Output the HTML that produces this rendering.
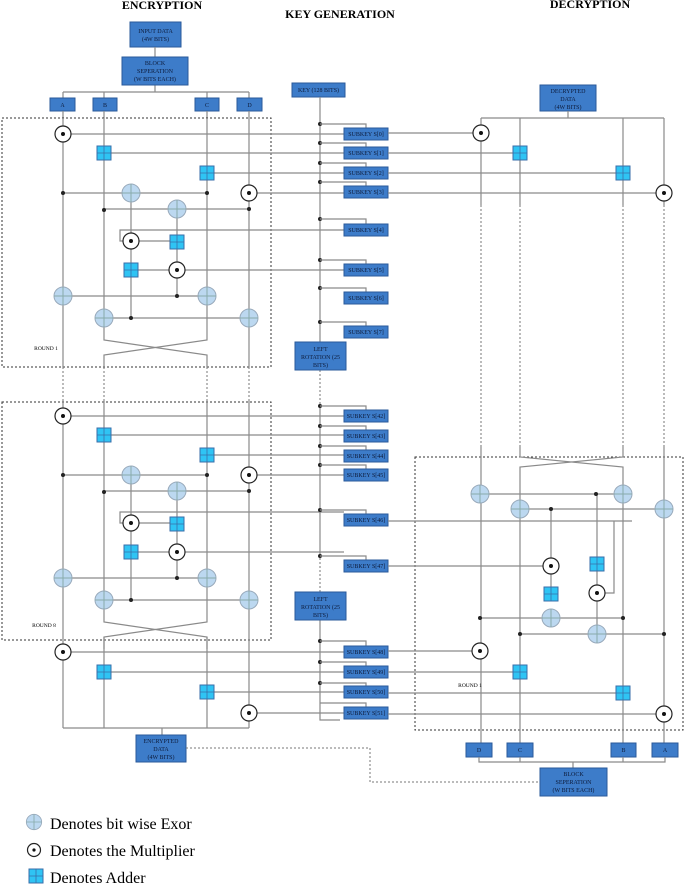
<!DOCTYPE html>
<html><head><meta charset="utf-8"><style>
html,body{margin:0;padding:0;background:#fff;width:685px;height:884px;overflow:hidden}
svg{display:block}
text{font-family:"Liberation Serif",serif;}
.t{font-size:6px;fill:#0d1b3a;text-anchor:middle}
.b{fill:#3d7cc9;stroke:#2a5a9a;stroke-width:1}
.l{stroke:#8a8a8a;stroke-width:1.2;fill:none}
.d{stroke:#777;stroke-width:1;fill:none;stroke-dasharray:2 2}
.bx{stroke:#333;stroke-width:1;fill:none;stroke-dasharray:2 2}
</style></head><body>
<svg width="685" height="884" viewBox="0 0 685 884" xmlns="http://www.w3.org/2000/svg">
<defs>
<g id="m"><circle r="8" fill="#fff" stroke="#222" stroke-width="1.2"/><circle r="2" fill="#111"/></g>
<g id="x"><circle r="9" fill="#bcd8f0" stroke="#9ab" stroke-width="1"/><path d="M-9 0H9M0 -9V9" stroke="#8aa" stroke-width="1"/></g>
<g id="a"><rect x="-7" y="-7" width="14" height="14" fill="#2fc4f4" stroke="#3a6ea8" stroke-width="1"/><path d="M-7 0H7M0 -7V7" stroke="#3a6ea8" stroke-width="0.8"/></g>
<g id="r">
<path class="l" d="M63 118V367M104 118V340L207 355V367M207 118V340L104 355V367M249 118V367"/>
<path class="l" d="M71 134H344M111 153H344M214 173H344M257 193H344M63 193H207M104 209H249M344 230H120V241H123M131 193V318M177 209V296M131 241H177M131 270H344M63 296H207M104 318H249"/>
<circle cx="63" cy="193" r="2" fill="#222"/><circle cx="207" cy="193" r="2" fill="#222"/>
<circle cx="104" cy="210" r="2" fill="#222"/><circle cx="249" cy="209" r="2" fill="#222"/>
<circle cx="177" cy="296" r="2" fill="#222"/><circle cx="131" cy="318" r="2" fill="#222"/>
<use href="#m" x="63" y="134"/><use href="#a" x="104" y="153"/><use href="#a" x="207" y="173"/><use href="#m" x="249" y="193"/>
<use href="#x" x="131" y="193"/><use href="#x" x="177" y="209"/>
<use href="#m" x="131" y="241"/><use href="#a" x="177" y="242"/>
<use href="#a" x="131" y="270"/><use href="#m" x="177" y="270"/>
<use href="#x" x="63" y="296"/><use href="#x" x="207" y="296"/>
<use href="#x" x="104" y="318"/><use href="#x" x="249" y="318"/>
</g>
</defs>

<text x="162" y="9" font-size="12" font-weight="bold" text-anchor="middle">ENCRYPTION</text>
<text x="340" y="18" font-size="12" font-weight="bold" text-anchor="middle">KEY GENERATION</text>
<text x="590" y="8" font-size="12" font-weight="bold" text-anchor="middle">DECRYPTION</text>

<rect class="b" x="130" y="22" width="51" height="25"/><text class="t" x="155.5" y="33">INPUT DATA</text><text class="t" x="155.5" y="41">(4W BITS)</text>
<path class="l" d="M155 47V57M155 85V92M63 92H249M63 92V98M104 92V98M207 92V98M249 92V98"/>
<rect class="b" x="122" y="57" width="66" height="28"/><text class="t" x="155" y="65">BLOCK</text><text class="t" x="155" y="73">SEPERATION</text><text class="t" x="155" y="81">(W BITS EACH)</text>
<rect class="b" x="50" y="98" width="25" height="13"/><text class="t" x="62.5" y="107">A</text>
<rect class="b" x="93" y="98" width="24" height="13"/><text class="t" x="105" y="107">B</text>
<rect class="b" x="195" y="98" width="24" height="13"/><text class="t" x="207" y="107">C</text>
<rect class="b" x="237" y="98" width="25" height="13"/><text class="t" x="249.5" y="107">D</text>
<path class="l" d="M63 111V118M104 111V118M207 111V118M249 111V118"/>

<rect class="bx" x="2" y="118" width="269" height="249"/>
<use href="#r"/>
<text x="46" y="350" font-size="5.5" text-anchor="middle">ROUND 1</text>
<path class="d" d="M63 367V402M104 367V402M207 367V402M249 367V402"/>
<rect class="bx" x="2" y="402" width="269" height="238"/>
<use href="#r" y="282"/>
<text x="44" y="627" font-size="5.5" text-anchor="middle">ROUND 8</text>

<path class="l" d="M63 649V728M104 637V728M207 637V728M249 649V728M63 728H249M162 728V735"/>
<path class="l" d="M71 652H344M111 672H344M214 692H344M257 713H344"/>
<use href="#m" x="63" y="652"/><use href="#a" x="104" y="672"/><use href="#a" x="207" y="692"/><use href="#m" x="249" y="713"/>
<rect class="b" x="136" y="735" width="50" height="27"/><text class="t" x="161" y="743">ENCRYPTED</text><text class="t" x="161" y="751">DATA</text><text class="t" x="161" y="759">(4W BITS)</text>
<path class="d" d="M186 748H370V782H540"/>

<rect class="b" x="292" y="83" width="53" height="14"/><text class="t" x="318.5" y="92">KEY (128 BITS)</text>
<path class="l" d="M320 97V342M320 620V720H340"/>
<path class="d" d="M320 370V592"/>
<path class="l" d="M320 404V560"/>
<g fill="#222">
<circle cx="320" cy="124" r="2"/><circle cx="320" cy="143" r="2"/><circle cx="320" cy="163" r="2"/><circle cx="320" cy="182" r="2"/><circle cx="320" cy="219" r="2"/><circle cx="320" cy="260" r="2"/><circle cx="320" cy="288" r="2"/><circle cx="320" cy="322" r="2"/>
<circle cx="320" cy="406" r="2"/><circle cx="320" cy="426" r="2"/><circle cx="320" cy="446" r="2"/><circle cx="320" cy="465" r="2"/><circle cx="320" cy="510" r="2"/><circle cx="320" cy="556" r="2"/>
<circle cx="320" cy="641" r="2"/><circle cx="320" cy="662" r="2"/><circle cx="320" cy="683" r="2"/>
</g>
<path class="l" d="M320 124H366V128M320 143H366V147M320 163H366V167M320 182H366V186M320 219H366V224M320 260H366V264M320 288H366V292M320 322H366V326M320 406H366V410M320 426H366V430M320 446H366V450M320 465H366V469M320 510H366V514M320 556H366V560M320 641H366V646M320 662H366V666M320 683H366V686M320 703H366V707"/>
<g>
<rect class="b" x="344" y="128" width="44" height="12"/><text class="t" x="366" y="136">SUBKEY S[0]</text>
<rect class="b" x="344" y="147" width="44" height="12"/><text class="t" x="366" y="155">SUBKEY S[1]</text>
<rect class="b" x="344" y="167" width="44" height="12"/><text class="t" x="366" y="175">SUBKEY S[2]</text>
<rect class="b" x="344" y="186" width="44" height="12"/><text class="t" x="366" y="194">SUBKEY S[3]</text>
<rect class="b" x="344" y="224" width="44" height="12"/><text class="t" x="366" y="232">SUBKEY S[4]</text>
<rect class="b" x="344" y="264" width="44" height="12"/><text class="t" x="366" y="272">SUBKEY S[5]</text>
<rect class="b" x="344" y="292" width="44" height="12"/><text class="t" x="366" y="300">SUBKEY S[6]</text>
<rect class="b" x="344" y="326" width="44" height="12"/><text class="t" x="366" y="334">SUBKEY S[7]</text>
<rect class="b" x="295" y="342" width="51" height="28"/><text class="t" x="320.5" y="351">LEFT</text><text class="t" x="320.5" y="359">ROTATION (25</text><text class="t" x="320.5" y="367">BITS)</text>
<rect class="b" x="344" y="410" width="44" height="12"/><text class="t" x="366" y="418">SUBKEY S[42]</text>
<rect class="b" x="344" y="430" width="44" height="12"/><text class="t" x="366" y="438">SUBKEY S[43]</text>
<rect class="b" x="344" y="450" width="44" height="12"/><text class="t" x="366" y="458">SUBKEY S[44]</text>
<rect class="b" x="344" y="469" width="44" height="12"/><text class="t" x="366" y="477">SUBKEY S[45]</text>
<rect class="b" x="344" y="514" width="44" height="12"/><text class="t" x="366" y="522">SUBKEY S[46]</text>
<rect class="b" x="344" y="560" width="44" height="12"/><text class="t" x="366" y="568">SUBKEY S[47]</text>
<rect class="b" x="295" y="592" width="51" height="28"/><text class="t" x="320.5" y="601">LEFT</text><text class="t" x="320.5" y="609">ROTATION (25</text><text class="t" x="320.5" y="617">BITS)</text>
<rect class="b" x="344" y="646" width="44" height="12"/><text class="t" x="366" y="654">SUBKEY S[48]</text>
<rect class="b" x="344" y="666" width="44" height="12"/><text class="t" x="366" y="674">SUBKEY S[49]</text>
<rect class="b" x="344" y="686" width="44" height="12"/><text class="t" x="366" y="694">SUBKEY S[50]</text>
<rect class="b" x="344" y="707" width="44" height="12"/><text class="t" x="366" y="715">SUBKEY S[51]</text>
</g>

<rect class="b" x="540" y="85" width="56" height="26"/><text class="t" x="568" y="93">DECRYPTED</text><text class="t" x="568" y="101">DATA</text><text class="t" x="568" y="109">(4W BITS)</text>
<path class="l" d="M481 118H664M568 118V111M481 118V125M520 118V146M623 118V166M664 118V185"/>
<path class="l" d="M388 133H473M388 153H513M388 173H616M388 193H656"/>
<path class="l" d="M481 141V205M520 160V205M623 180V205M664 201V205"/>
<path class="d" d="M481 205V457M520 205V457M623 205V457M664 205V457"/>
<use href="#m" x="481" y="133"/><use href="#a" x="520" y="153"/><use href="#a" x="623" y="173"/><use href="#m" x="664" y="193"/>

<rect class="bx" x="415" y="457" width="268" height="273"/>
<path class="l" d="M520 445V457L623 467V743M623 445V457L520 467V743M481 445V743M664 445V743"/>
<path class="l" d="M480 494H623M520 509H664M388 521H632M614 521V593H605M388 566H543M551 509V594M597 494V634M480 618H623M520 634H664"/>
<path class="l" d="M388 651H472M388 672H513M388 693H616M388 714H656"/>
<g fill="#222"><circle cx="596" cy="494" r="2"/><circle cx="551" cy="509" r="2"/><circle cx="480" cy="618" r="2"/><circle cx="623" cy="618" r="2"/><circle cx="520" cy="634" r="2"/><circle cx="664" cy="634" r="2"/></g>
<use href="#x" x="480" y="494"/><use href="#x" x="623" y="494"/>
<use href="#x" x="520" y="509"/><use href="#x" x="664" y="509"/>
<use href="#m" x="551" y="566"/><use href="#a" x="597" y="564"/>
<use href="#m" x="597" y="593"/><use href="#a" x="551" y="594"/>
<use href="#x" x="551" y="618"/><use href="#x" x="597" y="634"/>
<use href="#m" x="480" y="651"/><use href="#a" x="520" y="672"/><use href="#a" x="623" y="693"/><use href="#m" x="664" y="714"/>
<text x="470" y="687" font-size="5.5" text-anchor="middle">ROUND 1</text>

<rect class="b" x="466" y="743" width="26" height="14"/><text class="t" x="479" y="752">D</text>
<rect class="b" x="507" y="743" width="26" height="14"/><text class="t" x="520" y="752">C</text>
<rect class="b" x="611" y="743" width="25" height="14"/><text class="t" x="623.5" y="752">B</text>
<rect class="b" x="652" y="743" width="26" height="14"/><text class="t" x="665" y="752">A</text>
<path class="l" d="M479 757V762H665V757M520 757V762M623 757V762M573 762V768"/>
<rect class="b" x="540" y="768" width="67" height="28"/><text class="t" x="573.5" y="776">BLOCK</text><text class="t" x="573.5" y="784">SEPERATION</text><text class="t" x="573.5" y="792">(W BITS EACH)</text>

<g transform="translate(34 822) scale(0.85)"><circle r="9" fill="#bcd8f0" stroke="#9ab" stroke-width="1"/><path d="M-9 0H9M0 -9V9" stroke="#8aa" stroke-width="1"/></g>
<text x="50" y="829" font-size="16">Denotes bit wise Exor</text>
<g transform="translate(34 850)"><circle r="6.5" fill="#fff" stroke="#222" stroke-width="1.2"/><circle r="1.6" fill="#111"/></g>
<text x="50" y="856" font-size="16">Denotes the Multiplier</text>
<use href="#a" x="36" y="876"/>
<text x="50" y="883" font-size="16">Denotes Adder</text>
</svg>
</body></html>
